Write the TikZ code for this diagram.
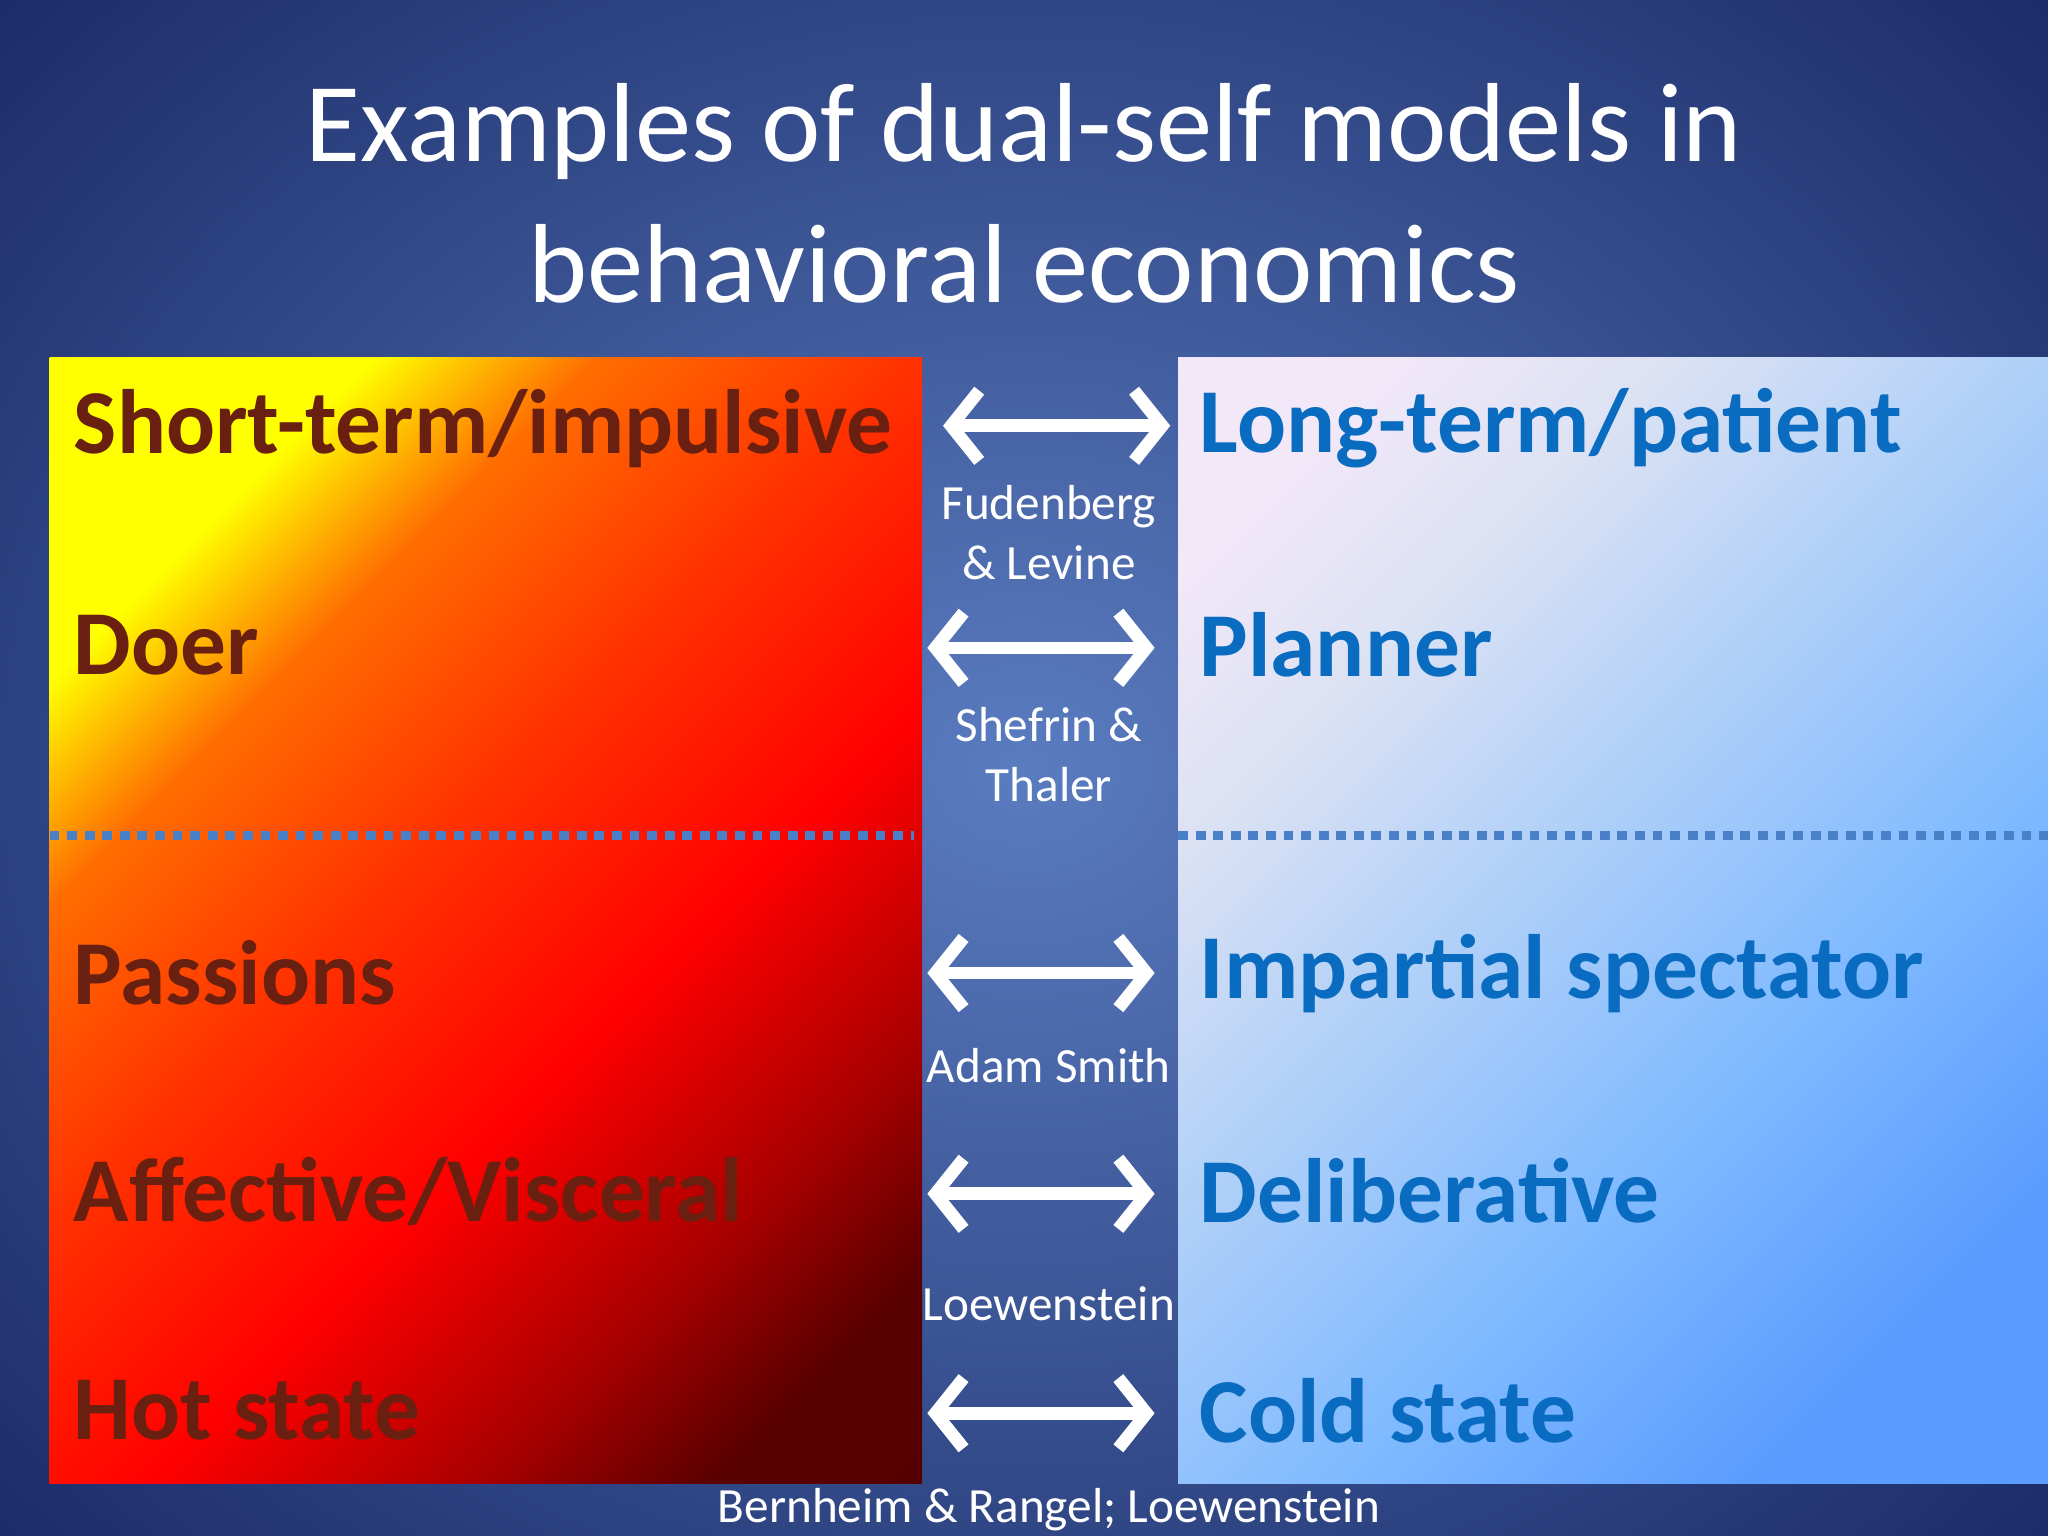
\documentclass[tikz,border=0pt]{standalone}
\usepackage{fontspec}
\setmainfont{Carlito}
\usetikzlibrary{arrows.meta}
\definecolor{bgin}{HTML}{5A7CC0}
\definecolor{bgout}{HTML}{1A2A66}
\definecolor{leftc}{HTML}{6A2010}
\definecolor{rightc}{HTML}{0A6CC0}
\definecolor{dotc}{HTML}{4A80C8}
\definecolor{cA}{HTML}{5A9CFF}
\definecolor{cB}{HTML}{80BAFF}
\definecolor{cC}{HTML}{B0D0F8}
\definecolor{cD}{HTML}{DCE2F4}
\definecolor{cE}{HTML}{F2E8F8}
\pgfdeclareverticalshading{hotshade}{100bp}{color(0bp)=(black!70!red); color(22bp)=(black!65!red); color(30bp)=(black!35!red); color(42bp)=(red); color(55bp)=(orange!40!red); color(66bp)=(orange!85!red); color(74bp)=(yellow); color(100bp)=(yellow)}
\pgfdeclareverticalshading{coldshade}{100bp}{color(0bp)=(cA); color(25bp)=(cA); color(40bp)=(cB); color(55bp)=(cC); color(68bp)=(cD); color(78bp)=(cE); color(100bp)=(cE)}
\tikzset{
  lbl/.style={anchor=west,font=\bfseries\fontsize{26}{30}\selectfont,text=leftc,inner sep=0},
  rbl/.style={anchor=west,font=\bfseries\fontsize{26}{30}\selectfont,text=rightc,inner sep=0},
  cite/.style={font=\fontsize{14}{17}\selectfont,text=white,align=center,inner sep=0},
  dbl/.style={white,line width=3.6pt,{Straight Barb[length=8pt,width=20pt,line width=3.6pt]}-{Straight Barb[length=8pt,width=20pt,line width=3.6pt]}},
  dotline/.style={dotc,line width=2.6pt,dash pattern=on 2.8pt off 2.2pt}
}
\begin{document}
\begin{tikzpicture}[x=0.013061cm,y=-0.013061cm]
\useasboundingbox (0,0) rectangle (1568,1176);
\shade[inner color=bgin,outer color=bgout] (-300,-300) rectangle (1868,1476);
\node[font=\fontsize{32}{40}\selectfont,text=white,align=center] (title) at (784,148) {Examples of dual-self models in\\behavioral economics};
\shade[shading=hotshade,shading angle=45] (38,274) rectangle (706,1136);
\shade[shading=coldshade,shading angle=45] (902,274) rectangle (1568,1136);
\draw[dotline] (38,640) -- (700,640);
\draw[dotline] (902,640) -- (1568,640);
\node[lbl] (l1) at (56,328) {Short-term/impulsive};
\node[lbl] (l2) at (56,494) {Doer};
\node[lbl] (l3) at (56,745) {Passions};
\node[lbl] (l4) at (56,912) {Affective/Visceral};
\node[lbl] (l5) at (56,1080) {Hot state};
\node[rbl] (r1) at (918,328) {Long-term/patient};
\node[rbl] (r2) at (918,494) {Planner};
\node[rbl] (r3) at (918,745) {Impartial spectator};
\node[rbl] (r4) at (918,912) {Deliberative};
\node[rbl] (r5) at (918,1080) {Cold state};
\coordinate (a1l) at (722,326); \coordinate (a1r) at (896,326);
\coordinate (a2l) at (710,496); \coordinate (a2r) at (884,496);
\coordinate (a3l) at (710,745); \coordinate (a3r) at (884,745);
\coordinate (a4l) at (710,914); \coordinate (a4r) at (884,914);
\coordinate (a5l) at (710,1082); \coordinate (a5r) at (884,1082);
\draw[dbl] (a1l) -- (a1r);
\draw[dbl] (a2l) -- (a2r);
\draw[dbl] (a3l) -- (a3r);
\draw[dbl] (a4l) -- (a4r);
\draw[dbl] (a5l) -- (a5r);
\node[cite] (c1) at (803,408) {Fudenberg\\\& Levine};
\node[cite] (c2) at (803,578) {Shefrin \&\\Thaler};
\node[cite] (c3) at (803,816) {Adam Smith};
\node[cite] (c4) at (803,998) {Loewenstein};
\node[cite] (c5) at (803,1156) {Bernheim \& Rangel; Loewenstein};
\end{tikzpicture}
\end{document}
